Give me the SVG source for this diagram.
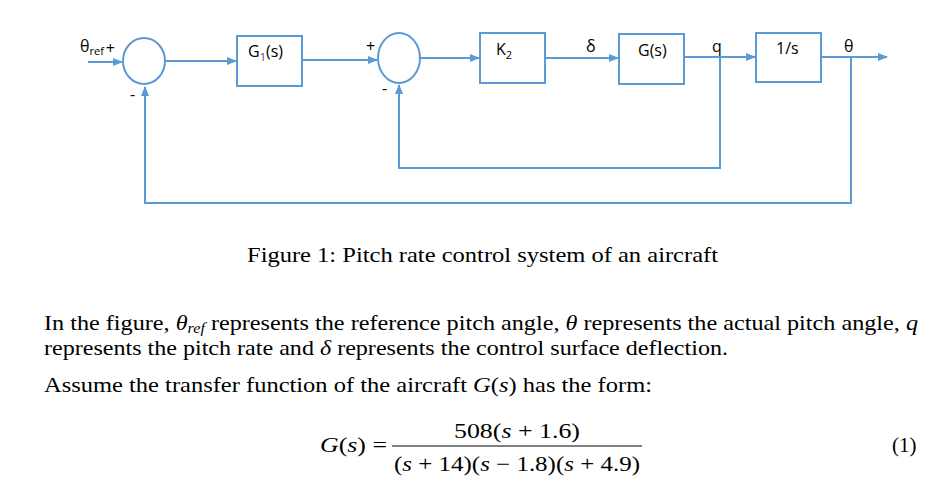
<svg xmlns="http://www.w3.org/2000/svg" width="932" height="481" viewBox="0 0 932 481">
<style>
.b{fill:#fff;stroke:#5b9bd5;stroke-width:2}
.l{fill:none;stroke:#5b9bd5;stroke-width:2}
.d{font-family:"Open Sans","Liberation Sans",sans-serif;font-size:16px;fill:#000}
.t{font-family:"Liberation Serif",serif;font-size:21px;fill:#000}
.i{font-style:italic}
</style>
<defs><marker id="a" markerWidth="10" markerHeight="8" refX="9" refY="4" orient="auto" markerUnits="userSpaceOnUse"><path d="M0,0L10,4L0,8z" fill="#5b9bd5"/></marker></defs>
<rect width="932" height="481" fill="#fff"/>
<g id="connectors">
<path class="l" d="M88,62H122" marker-end="url(#a)"/>
<path class="l" d="M165,61H236" marker-end="url(#a)"/>
<path class="l" d="M302,60H377" marker-end="url(#a)"/>
<path class="l" d="M420,58H479" marker-end="url(#a)"/>
<path class="l" d="M545,58H618" marker-end="url(#a)"/>
<path class="l" d="M684,57H755" marker-end="url(#a)"/>
<path class="l" d="M821,57H887" marker-end="url(#a)"/>
<path class="l" d="M720,57V168H399V85" marker-end="url(#a)"/>
<path class="l" d="M851,57V203H145V87" marker-end="url(#a)"/>
</g>
<g id="sum1"><ellipse class="b" cx="144" cy="61" rx="21" ry="23"/></g>
<g id="G1"><rect class="b" x="237" y="36" width="65" height="50"/><text class="d" x="248" y="57">G<tspan font-size="11" dy="4" fill="#7030a0">1</tspan><tspan dy="-4">(s)</tspan></text></g>
<g id="sum2"><ellipse class="b" cx="399" cy="58" rx="21" ry="25"/></g>
<g id="K2"><rect class="b" x="480" y="33" width="65" height="50"/><text class="d" x="496" y="55">K<tspan font-size="11" dy="4">2</tspan></text></g>
<g id="G"><rect class="b" x="619" y="34" width="65" height="50"/><text class="d" x="638" y="56">G(s)</text></g>
<g id="int"><rect class="b" x="756" y="33" width="65" height="49"/><text class="d" x="776" y="54">1/s</text></g>
<g id="labels">
<text class="d" x="80" y="52">θ<tspan font-size="11" dy="3">ref</tspan><tspan dx="2" dy="-1">+</tspan></text>
<text class="d" x="130" y="100">-</text>
<text class="d" x="366" y="52">+</text>
<text class="d" x="382" y="94">-</text>
<text class="d" x="586" y="52">δ</text>
<text class="d" x="712" y="52">q</text>
<text class="d" x="844" y="52">θ</text>
</g>
<text class="t" x="247" y="262" textLength="471" lengthAdjust="spacingAndGlyphs">Figure 1: Pitch rate control system of an aircraft</text>
<text class="t" x="44" y="330" textLength="874" lengthAdjust="spacingAndGlyphs">In the figure, <tspan class="i">θ<tspan font-size="14" dy="3">ref</tspan></tspan><tspan dy="-3"> represents the reference pitch angle, </tspan><tspan class="i">θ</tspan> represents the actual pitch angle, <tspan class="i">q</tspan></text>
<text class="t" x="44" y="355" textLength="684" lengthAdjust="spacingAndGlyphs">represents the pitch rate and <tspan class="i">δ</tspan> represents the control surface deflection.</text>
<text class="t" x="44" y="392" textLength="608" lengthAdjust="spacingAndGlyphs">Assume the transfer function of the aircraft <tspan class="i">G</tspan>(<tspan class="i">s</tspan>) has the form:</text>
<text class="t" x="320" y="452" textLength="67" lengthAdjust="spacingAndGlyphs"><tspan class="i">G</tspan>(<tspan class="i">s</tspan>) =</text>
<text class="t" x="517" y="438" text-anchor="middle" textLength="126" lengthAdjust="spacingAndGlyphs">508(<tspan class="i">s</tspan> + 1.6)</text>
<line x1="392" y1="446" x2="642" y2="446" stroke="#000" stroke-width="1"/>
<text class="t" x="517" y="471" text-anchor="middle" textLength="246" lengthAdjust="spacingAndGlyphs">(<tspan class="i">s</tspan> + 14)(<tspan class="i">s</tspan> − 1.8)(<tspan class="i">s</tspan> + 4.9)</text>
<text class="t" x="892" y="452">(1)</text>
</svg>
